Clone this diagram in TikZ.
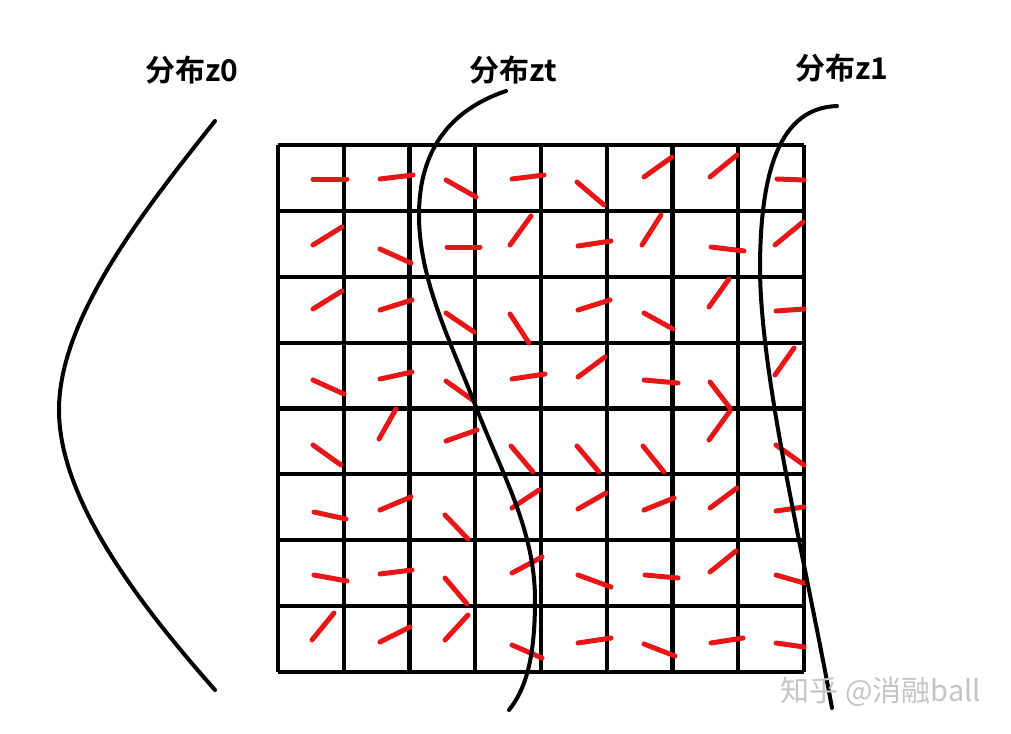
\documentclass[tikz,border=0pt]{standalone}
\usepackage{fontspec}
\newfontfamily\cjk{Noto Sans CJK SC}[BoldFont={Noto Sans CJK SC Bold}]
\definecolor{segred}{RGB}{232,22,22}
\definecolor{wmgray}{RGB}{196,196,196}
\tikzset{
  gridline/.style={line width=4.2pt,black},
  seg/.style={line width=5pt,segred,line cap=round},
  distcurve/.style={line width=4pt,black,line cap=round},
  distlabel/.style={font=\cjk\bfseries\fontsize{30}{30}\selectfont,inner sep=0pt},
  watermark/.style={font=\cjk\fontsize{29}{29}\selectfont,text=wmgray,inner sep=0pt}
}
\begin{document}
\begin{tikzpicture}[x=1pt,y=-1pt]
\useasboundingbox[fill=white] (0,0) rectangle (1011,733);
% grid
\foreach \i in {0,...,8}{
  \draw[gridline] ({278+\i*65.75},145) -- ({278+\i*65.75},672);
  \draw[gridline] (278,{145+\i*65.875}) -- (804,{145+\i*65.875});
}
% red segments
\foreach \a/\b/\c/\d in {
 313/179/347/179, 380/179/413/175, 446/180/476/197, 512/179/544/175, 577/182/604/205, 644/177/672/157, 710/177/737/155, 777/179/804/180,
 313/245/342/227, 380/249/411/263, 447/247/480/247, 510/245/531/216, 578/246/611/241, 642/245/661/215, 711/247/744/251, 775/245/803/222,
 313/309/342/291, 380/310/412/300, 446/313/474/332, 510/314/529/343, 578/310/610/300, 644/313/673/329, 709/307/729/279, 776/311/804/309,
 313/380/344/394, 380/379/412/372, 446/381/474/401, 512/379/545/374, 578/377/605/357, 644/380/678/383, 710/382/730/408, 775/375/794/348,
 313/445/341/465, 379/439/396/409, 446/441/477/430, 511/446/533/472, 577/446/599/472, 643/446/664/472, 709/440/730/411, 776/445/804/465,
 314/512/346/519, 380/510/411/497, 445/515/468/539, 512/508/539/490, 578/509/606/493, 644/510/674/498, 710/508/737/488, 776/511/804/507,
 314/575/347/581, 380/574/412/570, 445/578/467/604, 512/573/542/557, 578/575/611/587, 645/575/678/578, 710/572/736/551, 776/575/804/583,
 312/640/334/613, 380/642/410/627, 445/640/468/615, 512/645/542/658, 578/643/611/638, 644/644/675/656, 711/643/743/638, 776/643/804/647}
 { \draw[seg] (\a,\b) -- (\c,\d); }
% distribution curves
\coordinate (z0a) at (215,121);
\coordinate (z0m) at (59,410);
\coordinate (z0b) at (215,690);
\draw[distcurve] (z0a) .. controls (140,215) and (59,320) .. (z0m)
  .. controls (59,500) and (140,605) .. (z0b);
\coordinate (zta) at (506,91);
\coordinate (ztb) at (419,215);
\coordinate (ztc) at (476,407);
\coordinate (ztd) at (535,600);
\coordinate (zte) at (509,710);
\draw[distcurve] (zta) .. controls (450,110) and (419,150) .. (ztb)
  .. controls (419,280) and (450,340) .. (ztc)
  .. controls (502,474) and (535,530) .. (ztd)
  .. controls (535,660) and (525,690) .. (zte);
\coordinate (z1a) at (837,106);
\coordinate (z1b) at (760,270);
\coordinate (z1c) at (832,708);
\draw[distcurve] (z1a) .. controls (780,108) and (760,170) .. (z1b)
  .. controls (761,380) and (805,560) .. (z1c);
% labels
\node[distlabel] (l0) at (192,70) {分布z0};
\node[distlabel] (lt) at (513,70) {分布zt};
\node[distlabel] (l1) at (842,68) {分布z1};
\node[watermark] (wm) at (881,692) {知乎 @消融ball};
\end{tikzpicture}
\end{document}
